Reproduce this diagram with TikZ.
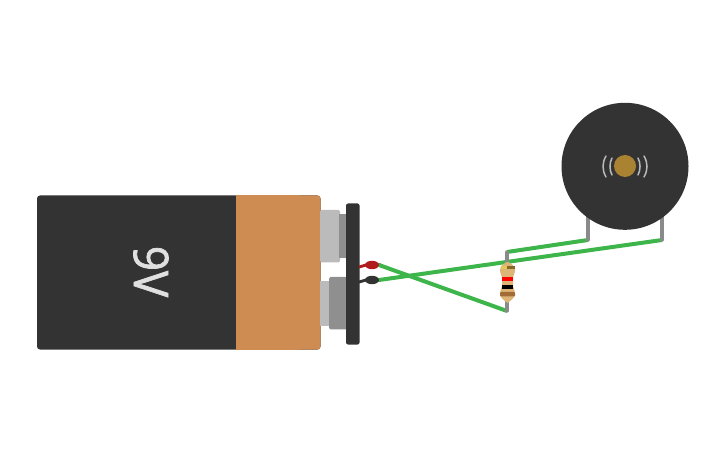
\documentclass[tikz,border=0pt]{standalone}
\usepackage{fontspec}
\setmainfont{Open Sans}
\newfontfamily\labelfont[FakeBold=1.6]{Open Sans}
\definecolor{dark}{HTML}{333333}
\definecolor{copper}{HTML}{CE8C53}
\definecolor{lgray}{HTML}{BBBBBB}
\definecolor{mgray}{HTML}{8F8F8F}
\definecolor{wire}{HTML}{3DB54A}
\definecolor{leadc}{HTML}{8A8A8A}
\definecolor{snapred}{HTML}{B01C1C}
\definecolor{restan}{HTML}{DDB577}
\definecolor{gold}{HTML}{A98232}
\tikzset{
  x=1bp,y=-1bp,
  part/.style={draw=none,rounded corners=1.5bp},
  wireline/.style={draw=wire,line width=4bp},
  leadline/.style={draw=leadc,line width=3.4bp},
  soundarc/.style={draw=lgray,line width=1.5bp,line cap=round},
}
\begin{document}
\begin{tikzpicture}
\useasboundingbox (0,0) rectangle (725,453);
% connection points
\coordinate (redend) at (379,265);
\coordinate (blackend) at (379,280);
\coordinate (rtop) at (507,252);
\coordinate (rbot) at (507,311);
\coordinate (bzl) at (588,240);
\coordinate (bzr) at (662,240);
\coordinate (bzlt) at (588,215);
\coordinate (bzrt) at (662,215);
% battery
\fill[dark,rounded corners=3bp] (37,195.5) rectangle (320.5,349.5);
\fill[copper,rounded corners=3bp] (236,195.5) -- (320.5,195.5) -- (320.5,349.5) -- (236,349.5) -- cycle;
\fill[copper] (236,195.5) rectangle (300,349.5);
\fill[lgray,part] (320,210) rectangle (340,262.5);
\fill[mgray] (339,214) rectangle (347,258);
\fill[lgray] (320,281) rectangle (330,326);
\fill[mgray,part] (329,277) rectangle (347,329.5);
\fill[dark,rounded corners=2bp] (346,203.5) rectangle (359.5,344.5);
\node[rotate=-90,font=\labelfont\fontsize{48}{48}\selectfont,text=black!12,inner sep=0pt,xscale=0.92] (label) at (151,271.5) {9V};
% snaps
\fill[snapred] (359,265.5) -- (366,263.5) -- (366,266.5) -- (359,268.5) -- cycle;
\fill[dark] (359,280.5) -- (366,278.5) -- (366,281.5) -- (359,283.5) -- cycle;
\draw[leadc,line width=3.2bp] (375,265) -- (381,265);
\draw[leadc,line width=3.2bp] (375,280) -- (381,280);
\fill[snapred] (372,265) ellipse (7 and 4.2);
\fill[dark] (372,280) ellipse (7 and 4.2);
% wires
\draw[wireline] (redend) -- (rbot);
\draw[wireline] (blackend) -- (bzr);
\draw[wireline] (rtop) -- (bzl);
% buzzer leads
\draw[leadline,line cap=round] (bzlt) -- (bzl);
\draw[leadline,line cap=round] (bzrt) -- (bzr);
% resistor
\draw[leadline,line cap=round] (rtop) -- (rbot);
\fill[restan] (507.5,262)
  .. controls (511,263) and (515,266) .. (515,270)
  .. controls (515,274) and (513,275) .. (513,279)
  -- (513,286)
  .. controls (513,288) and (515,290) .. (515,294)
  .. controls (515,298) and (511,300) .. (507.5,303)
  .. controls (504,300) and (500,298) .. (500,294)
  .. controls (500,290) and (502,288) .. (502,286)
  -- (502,279)
  .. controls (502,275) and (500,274) .. (500,270)
  .. controls (500,266) and (504,263) .. (507.5,262) -- cycle;
\fill[restan!75!yellow] (500.5,266.5) rectangle (507,269.5);
\fill[gold!80!black] (507,266.5) rectangle (515,269.5);
\fill[red] (502,277) rectangle (513,281.5);
\fill[black] (502,285) rectangle (513,289);
\fill[brown!85!black,rounded corners=1bp] (500,292) rectangle (515,296.5);
% buzzer
\fill[dark] (625,166.3) circle (63.5);
\fill[gold] (625,166) circle (11);
\draw[soundarc] (612,158) .. controls (609.3,163) and (609.3,170) .. (612,175);
\draw[soundarc] (606,156) .. controls (602,163) and (602,170) .. (606,177);
\draw[soundarc] (638,158) .. controls (640.7,163) and (640.7,170) .. (638,175);
\draw[soundarc] (644,156) .. controls (648,163) and (648,170) .. (644,177);
\end{tikzpicture}
\end{document}
